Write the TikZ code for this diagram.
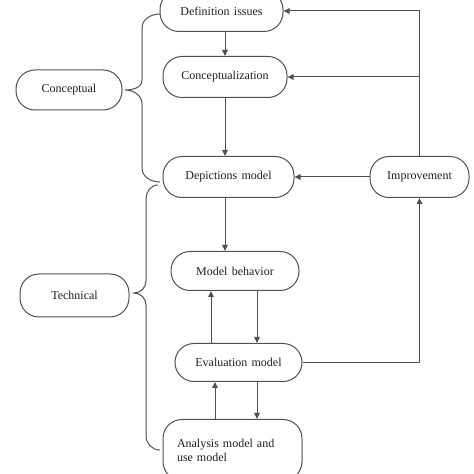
\documentclass[tikz,border=0pt]{standalone}
\usepackage{fontspec}
\setmainfont{Liberation Serif}[WordSpace=1.4]
\usetikzlibrary{positioning, arrows.meta}

\definecolor{linegray}{HTML}{505050}
\definecolor{textgray}{HTML}{1e1e1e}

\tikzset{
	box/.style={draw=linegray, line width=1pt, rounded corners=19pt, minimum height=41pt, inner sep=0pt, text=textgray, font=\fontsize{12}{14}\selectfont},
	arr/.style={draw=linegray, line width=1pt, -{Triangle[length=6pt,width=5.5pt]}},
	brace/.style={draw=linegray, line width=1pt}
}

\begin{document}
\begin{tikzpicture}[x=1pt, y=1pt]
	\useasboundingbox (0,0) rectangle (474,474);
	
	\node[box, minimum width=123pt] (defin) at (221.5,463) {Definition issues};
	\node[box, minimum width=124pt, below=24pt of defin, xshift=3.5pt] (concept) {Conceptualization};
	\node[box, minimum width=131pt, below=58pt of concept, xshift=3.5pt] (depict) {Depictions model};
	\node[box, minimum width=99pt, right=75pt of depict] (improve) {Improvement};
	\node[box, minimum width=128pt, minimum height=39pt, below=53pt of depict, xshift=6.5pt] (behav) {Model behavior};
	\node[box, minimum width=127pt, minimum height=38pt, below=52pt of behav, xshift=3.5pt] (evalm) {Evaluation model};
	\node[box, minimum width=139pt, minimum height=61pt, text width=111pt, align=left, below=37pt of evalm, xshift=-6pt] (analys) {Analysis model and\\use model};
	
	\node[box, minimum width=106pt, minimum height=40pt] (conceptual) at (69,384) {Conceptual};
	\node[box, minimum width=109pt, minimum height=43pt] (technical) at (74.5,178.5) {Technical};
	
	% x positions of the two-way arrows
	\coordinate (up1) at (211,0);
	\coordinate (up2) at (215,0);
	\coordinate (dn) at (257,0);
	
	% main column
	\draw[arr] (defin.south -| concept) -- (concept.north);
	\draw[arr] (concept.south) -- (concept.south |- depict.north);
	\draw[arr] (depict.south -| concept) -- (concept |- behav.north);
	\draw[arr] (up1 |- evalm.north) -- (up1 |- behav.south);
	\draw[arr] (dn |- behav.south) -- (dn |- evalm.north);
	\draw[arr] (up2 |- analys.north) -- (up2 |- evalm.south);
	\draw[arr] (dn |- evalm.south) -- (dn |- analys.north);
	
	% feedback loop
	\draw[arr] (evalm.east) -| (improve.south);
	\draw[arr] (improve.north) |- (defin.east);
	\draw[arr] (improve.north |- concept.east) -- (concept.east);
	\draw[arr] (improve.west) -- (depict.east);
	
	% braces
	\draw[brace] (160,460) to[out=180,in=90] (142,446) -- (142,394) to[out=-90,in=0] (125,384)
		to[out=0,in=90] (142,370) -- (142,306) to[out=-90,in=180] (160,292);
	\draw[brace] (158,289) to[out=180,in=90] (146,275) -- (146,193) to[out=-90,in=0] (134,181)
		to[out=0,in=90] (146,169) -- (146,38) to[out=-90,in=180] (160,24);
\end{tikzpicture}
\end{document}
